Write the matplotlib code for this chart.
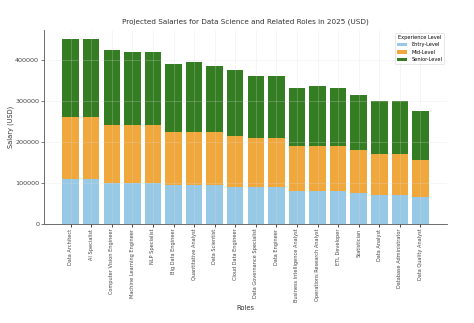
import matplotlib.pyplot as plt
import numpy as np

roles = ['Data Architect', 'AI Specialist', 'Computer Vision Engineer',
         'Machine Learning Engineer', 'NLP Specialist', 'Big Data Engineer',
         'Quantitative Analyst', 'Data Scientist', 'Cloud Data Engineer',
         'Data Governance Specialist', 'Data Engineer', 'Business Intelligence Analyst',
         'Operations Research Analyst', 'ETL Developer', 'Statistician',
         'Data Analyst', 'Database Administrator', 'Data Quality Analyst']
entry = [110000, 110000, 100000, 100000, 100000, 95000, 95000, 95000, 90000,
         90000, 90000, 80000, 80000, 80000, 75000, 70000, 70000, 65000]
mid = [150000, 150000, 140000, 140000, 140000, 130000, 130000, 130000, 125000,
       120000, 120000, 110000, 110000, 110000, 105000, 100000, 100000, 90000]
senior = [190000, 190000, 185000, 180000, 180000, 165000, 170000, 160000, 160000,
          150000, 150000, 140000, 145000, 140000, 135000, 130000, 130000, 120000]

entry = np.array(entry)
mid = np.array(mid)
senior = np.array(senior)

fig = plt.figure(figsize=(4.74, 3.23), dpi=100)
ax = fig.add_axes([0.093, 0.307, 0.85, 0.6])
x = np.arange(len(roles))
ax.bar(x, entry, color='#97c8e6', label='Entry-Level')
ax.bar(x, mid, bottom=entry, color='#f0a83c', label='Mid-Level')
ax.bar(x, senior, bottom=entry + mid, color='#347d22', label='Senior-Level')

ax.set_xticks(x)
ax.set_xticklabels(roles, rotation=90, fontsize=3.6, color='#444444')
ax.tick_params(axis='y', labelsize=4.6, colors='#444444', length=2, width=0.5, pad=1.5)
ax.tick_params(axis='x', length=2, width=0.5, pad=1.5)
ax.set_title('Projected Salaries for Data Science and Related Roles in 2025 (USD)',
             fontsize=5.2, color='#333333', pad=5)
ax.set_xlabel('Roles', fontsize=4.8, color='#333333', labelpad=2)
ax.set_ylabel('Salary (USD)', fontsize=4.8, color='#333333', labelpad=1)
ax.grid(True, color='#dddddd', linewidth=0.5, alpha=0.35)
for s in ['top', 'right']:
    ax.spines[s].set_visible(False)
for s in ['left', 'bottom']:
    ax.spines[s].set_linewidth(0.6)
    ax.spines[s].set_color('#555555')
leg = ax.legend(title='Experience Level', fontsize=3.6, title_fontsize=3.6,
                loc='upper right', frameon=True)
leg.get_frame().set_linewidth(0.4)

fig.savefig('out.png', dpi=100)
